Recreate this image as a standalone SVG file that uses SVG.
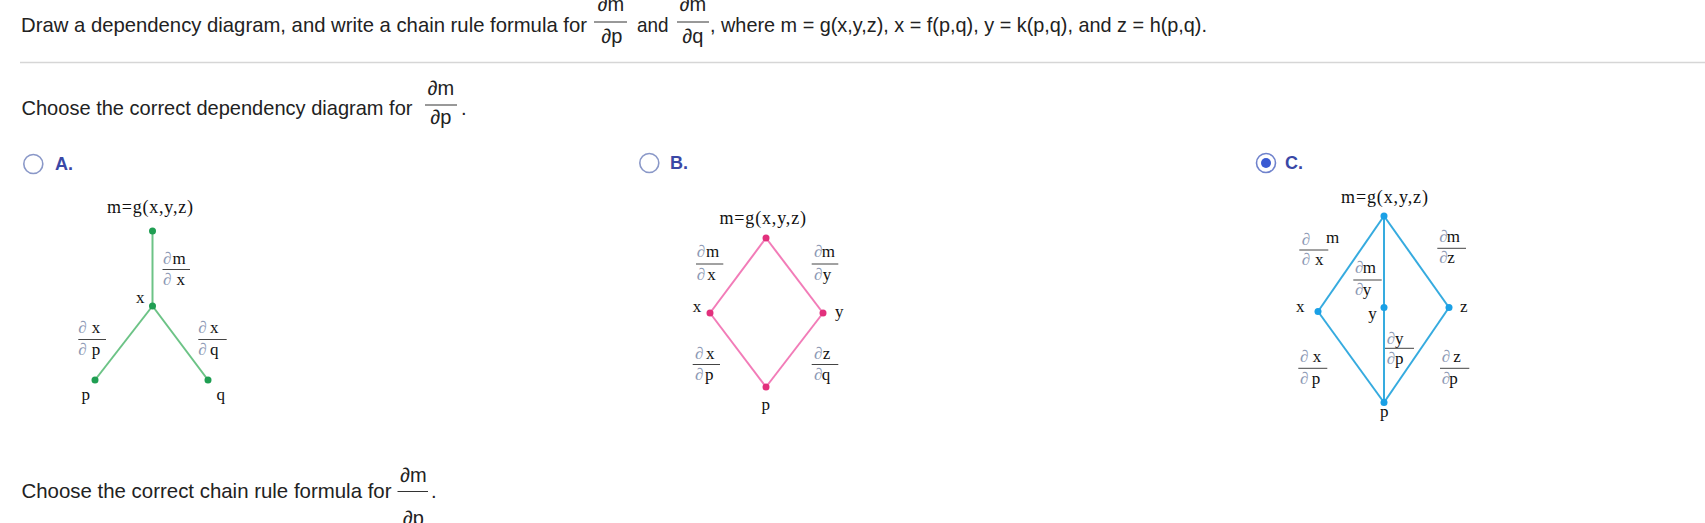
<svg xmlns="http://www.w3.org/2000/svg" width="1705" height="523" viewBox="0 0 1705 523">
<style>
.t{font-family:"Liberation Sans",Arial,sans-serif;font-size:20.3px;fill:#222}
.f{font-family:"Liberation Sans",Arial,sans-serif;font-size:20px;fill:#222;text-anchor:middle}
.bar{stroke:#333;stroke-width:1}
.opt{font-family:"Liberation Sans",Arial,sans-serif;font-size:18px;font-weight:bold;fill:#3a48a6}
.radio{fill:#fff;stroke:#8a98c8;stroke-width:1.6}
.s{font-family:"Liberation Serif","Times New Roman",serif;font-size:17px;fill:#111}
.m{font-family:"Liberation Serif","Times New Roman",serif;font-size:18px;fill:#111}
.fl{font-family:"Liberation Serif","Times New Roman",serif;font-size:17px;fill:#111}
.d{font-family:"Liberation Serif","Times New Roman",serif;font-size:17px;fill:#8c98b4}
.fb{stroke:#444;stroke-width:1}
.eg{stroke:#6cc386;stroke-width:2;fill:none}
.ep{stroke:#f27cb8;stroke-width:2;fill:none}
.eb{stroke:#36abdf;stroke-width:2;fill:none}
.ng{fill:#1f9e52}
.np{fill:#e2307c}
.nb{fill:#1aa0e6}
</style>
<rect width="1705" height="523" fill="#fff"/>

<!-- Header -->
<g id="header">
<text class="t" x="21" y="32" textLength="566" lengthAdjust="spacingAndGlyphs">Draw a dependency diagram, and write a chain rule formula for</text>
<text class="f" x="611" y="11">∂m</text>
<line class="bar" x1="594" y1="22" x2="627" y2="22"/>
<text class="f" x="612" y="43">∂p</text>
<text class="t" x="637" y="32" textLength="31.5" lengthAdjust="spacingAndGlyphs">and</text>
<text class="f" x="693" y="11">∂m</text>
<line class="bar" x1="677" y1="22" x2="709" y2="22"/>
<text class="f" x="693" y="43">∂q</text>
<text class="t" x="710" y="32" textLength="497" lengthAdjust="spacingAndGlyphs">, where m = g(x,y,z), x = f(p,q), y = k(p,q), and z = h(p,q).</text>
<line x1="20" y1="62.5" x2="1705" y2="62.5" stroke="#d6d6d6" stroke-width="1.5"/>
</g>

<g id="question1">
<text class="t" x="21.5" y="115" textLength="391" lengthAdjust="spacingAndGlyphs">Choose the correct dependency diagram for</text>
<text class="f" x="441" y="95">∂m</text>
<line class="bar" x1="425" y1="105" x2="457" y2="105"/>
<text class="f" x="441" y="124">∂p</text>
<text class="t" x="461" y="115">.</text>
</g>

<g id="option-A">
<circle class="radio" cx="33.3" cy="164" r="9.5"/>
<text class="opt" x="55" y="170">A.</text>
</g>
<g id="option-B">
<circle class="radio" cx="649.3" cy="163" r="9.5"/>
<text class="opt" x="670" y="169">B.</text>
</g>
<g id="option-C">
<circle cx="1266" cy="163" r="9.5" fill="#fff" stroke="#6f82cc" stroke-width="1.6"/>
<circle cx="1266" cy="163" r="5" fill="#3a5ad2"/>
<text class="opt" x="1285" y="169">C.</text>
</g>

<!-- Connectors -->
<g id="connectors">
<line class="eg" x1="152.5" y1="231" x2="152.5" y2="306"/>
<line class="eg" x1="152.5" y1="306" x2="95" y2="380"/>
<line class="eg" x1="152.5" y1="306" x2="208" y2="380"/>

<line class="ep" x1="766" y1="238" x2="710" y2="313"/>
<line class="ep" x1="766" y1="238" x2="823" y2="313"/>
<line class="ep" x1="710" y1="313" x2="766" y2="387"/>
<line class="ep" x1="823" y1="313" x2="766" y2="387"/>

<line class="eb" x1="1384" y1="216" x2="1318" y2="311.5"/>
<line class="eb" x1="1384" y1="216" x2="1384" y2="307.5"/>
<line class="eb" x1="1384" y1="216" x2="1449" y2="307.5"/>
<line class="eb" x1="1318" y1="311.5" x2="1384" y2="402.5"/>
<line class="eb" x1="1384" y1="307.5" x2="1384" y2="402.5"/>
<line class="eb" x1="1449" y1="307.5" x2="1384" y2="402.5"/>
</g>

<!-- Edge labels (partial derivatives) -->
<g id="edge-labels">
<!-- A -->
<text class="d" x="163" y="264">∂</text><text class="fl" x="172.5" y="264">m</text>
<line class="fb" x1="162.5" y1="269.5" x2="190" y2="269.5"/>
<text class="d" x="163" y="285">∂</text><text class="fl" x="176.5" y="285">x</text>

<text class="d" x="78.3" y="333">∂</text><text class="fl" x="91.7" y="333">x</text>
<line class="fb" x1="78.3" y1="339.5" x2="106" y2="339.5"/>
<text class="d" x="78.3" y="355">∂</text><text class="fl" x="91.7" y="355">p</text>

<text class="d" x="198.3" y="333">∂</text><text class="fl" x="210" y="333">x</text>
<line class="fb" x1="198.3" y1="339.5" x2="226.7" y2="339.5"/>
<text class="d" x="198.3" y="355">∂</text><text class="fl" x="210" y="355">q</text>

<!-- B -->
<text class="d" x="696.7" y="257">∂</text><text class="fl" x="706" y="257">m</text>
<line class="fb" x1="696" y1="264" x2="723.3" y2="264"/>
<text class="d" x="696.7" y="279.5">∂</text><text class="fl" x="707.3" y="279.5">x</text>

<text class="d" x="814" y="257">∂</text><text class="fl" x="821.7" y="257">m</text>
<line class="fb" x1="811.7" y1="264" x2="838.3" y2="264"/>
<text class="d" x="814" y="279.5">∂</text><text class="fl" x="822.7" y="279.5">y</text>

<text class="d" x="695" y="358.5">∂</text><text class="fl" x="706" y="358.5">x</text>
<line class="fb" x1="692.7" y1="364.5" x2="720" y2="364.5"/>
<text class="d" x="695" y="380">∂</text><text class="fl" x="705" y="380">p</text>

<text class="d" x="814" y="358.5">∂</text><text class="fl" x="822.7" y="358.5">z</text>
<line class="fb" x1="811.7" y1="364.5" x2="838.3" y2="364.5"/>
<text class="d" x="814" y="380">∂</text><text class="fl" x="821.7" y="380">q</text>

<!-- C -->
<text class="d" x="1301.7" y="245">∂</text><text class="fl" x="1326" y="243.3">m</text>
<line class="fb" x1="1299.3" y1="250" x2="1328.3" y2="250"/>
<text class="d" x="1301.7" y="265">∂</text><text class="fl" x="1315" y="265">x</text>

<text class="d" x="1439.3" y="241.7">∂</text><text class="fl" x="1446.7" y="241.7">m</text>
<line class="fb" x1="1437.3" y1="248.3" x2="1466" y2="248.3"/>
<text class="d" x="1439.3" y="263.3">∂</text><text class="fl" x="1447.3" y="263.3">z</text>

<text class="d" x="1355" y="273.3">∂</text><text class="fl" x="1362.7" y="273.3">m</text>
<line class="fb" x1="1353.3" y1="280" x2="1381.7" y2="280"/>
<text class="d" x="1355" y="295">∂</text><text class="fl" x="1362.7" y="295">y</text>

<text class="d" x="1386.7" y="344">∂</text><text class="fl" x="1395" y="344">y</text>
<line class="fb" x1="1385" y1="348.3" x2="1414" y2="348.3"/>
<text class="d" x="1386.7" y="364">∂</text><text class="fl" x="1395" y="364">p</text>

<text class="d" x="1300" y="361.7">∂</text><text class="fl" x="1312.7" y="361.7">x</text>
<line class="fb" x1="1298.3" y1="368.3" x2="1327.3" y2="368.3"/>
<text class="d" x="1300" y="384">∂</text><text class="fl" x="1311.7" y="384">p</text>

<text class="d" x="1441.7" y="361.7">∂</text><text class="fl" x="1453.3" y="361.7">z</text>
<line class="fb" x1="1440" y1="368.3" x2="1469.3" y2="368.3"/>
<text class="d" x="1441.7" y="384">∂</text><text class="fl" x="1449.3" y="384">p</text>
</g>

<!-- Nodes: diagram A -->
<g id="A-m"><circle class="ng" cx="152.5" cy="231" r="3.5"/><text class="m" x="107" y="213" textLength="86" lengthAdjust="spacing">m=g(x,y,z)</text></g>
<g id="A-x"><circle class="ng" cx="152.5" cy="306" r="3.5"/><text class="s" x="136" y="303">x</text></g>
<g id="A-p"><circle class="ng" cx="95" cy="380" r="3.5"/><text class="s" x="81.5" y="400">p</text></g>
<g id="A-q"><circle class="ng" cx="208" cy="380" r="3.5"/><text class="s" x="216.5" y="400">q</text></g>

<!-- Nodes: diagram B -->
<g id="B-m"><circle class="np" cx="766" cy="238" r="3.5"/><text class="m" x="719.5" y="224" textLength="86.5" lengthAdjust="spacing">m=g(x,y,z)</text></g>
<g id="B-x"><circle class="np" cx="710" cy="313" r="3.5"/><text class="s" x="692.7" y="311.7">x</text></g>
<g id="B-y"><circle class="np" cx="823" cy="313" r="3.5"/><text class="s" x="835" y="317">y</text></g>
<g id="B-p"><circle class="np" cx="766" cy="387" r="3.5"/><text class="s" x="761.5" y="410">p</text></g>

<!-- Nodes: diagram C -->
<g id="C-m"><circle class="nb" cx="1384" cy="216" r="3.5"/><text class="m" x="1341" y="203" textLength="87" lengthAdjust="spacing">m=g(x,y,z)</text></g>
<g id="C-x"><circle class="nb" cx="1318" cy="311.5" r="3.5"/><text class="s" x="1296" y="311.7">x</text></g>
<g id="C-y"><circle class="nb" cx="1384" cy="307.5" r="3.5"/><text class="s" x="1368.3" y="319.3">y</text></g>
<g id="C-z"><circle class="nb" cx="1449" cy="307.5" r="3.5"/><text class="s" x="1460" y="311.7">z</text></g>
<g id="C-p"><circle class="nb" cx="1384" cy="402.5" r="3.5"/><text class="s" x="1380" y="417.3">p</text></g>

<g id="question2">
<text class="t" x="21.5" y="498" textLength="370" lengthAdjust="spacingAndGlyphs">Choose the correct chain rule formula for</text>
<text class="f" x="413.5" y="482">∂m</text>
<line class="bar" x1="397.5" y1="491.5" x2="428" y2="491.5"/>
<text class="f" x="413.5" y="524.5">∂p</text>
<text class="t" x="431" y="498">.</text>
</g>
</svg>
